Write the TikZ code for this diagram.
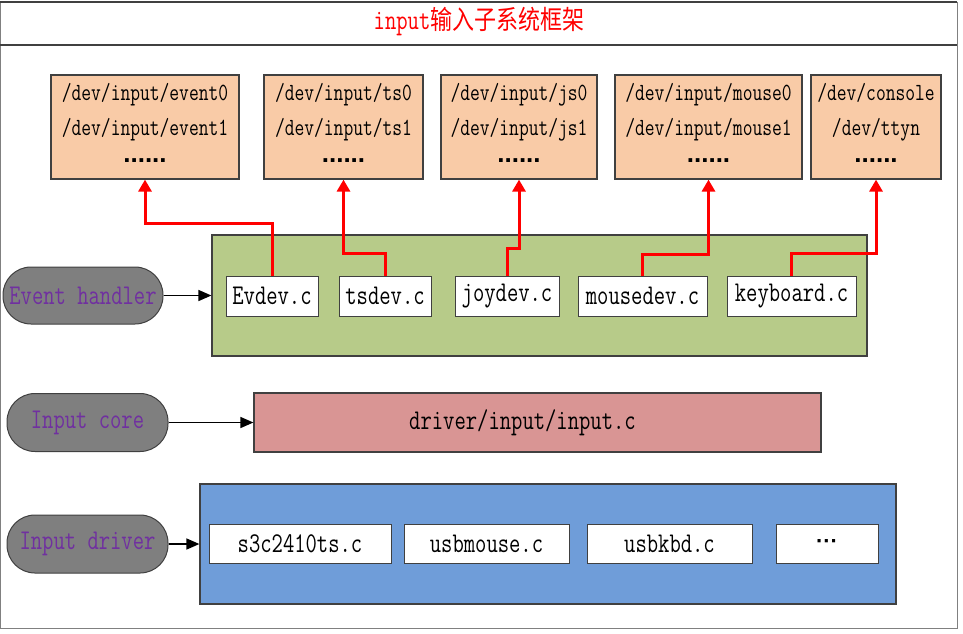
\documentclass[tikz,border=0pt]{standalone}
\usepackage{fontspec}
\usepackage{graphicx}
\usetikzlibrary{arrows.meta}
\newfontfamily\cjkfont{Noto Sans CJK SC}
\newfontfamily\dotfont{Liberation Sans}
\definecolor{devfill}{HTML}{F9CBA7}
\definecolor{handlerfill}{HTML}{B7CB89}
\definecolor{corefill}{HTML}{D99594}
\definecolor{driverfill}{HTML}{6F9DD9}
\definecolor{pillfill}{HTML}{7F7F7F}
\definecolor{pilltext}{HTML}{7030A0}
\definecolor{edge}{HTML}{404040}
\newcommand{\tall}[1]{\scalebox{1}[1.3]{#1}}
\newcommand{\devdots}{{\dotfont\bfseries\fontsize{26}{26}\selectfont ......}\rule[-8pt]{0pt}{0pt}}

\begin{document}
\begin{tikzpicture}[x=1pt,y=-1pt,
    frameline/.style={draw=gray,line width=1pt},
    devbox/.style={draw=edge,line width=1.2pt,fill=devfill,inner sep=0pt,align=center,
      minimum height=104,font=\fontsize{19}{35}\selectfont\ttfamily},
    layerbox/.style={draw=edge,line width=1.2pt,inner sep=0pt},
    srcbox/.style={draw=edge,line width=1pt,fill=white,inner sep=0pt,
      font=\fontsize{22}{22}\selectfont\ttfamily},
    pill/.style={draw=edge,line width=1pt,fill=pillfill,rounded corners=28,inner sep=0pt,
      minimum width=161,minimum height=58,text=pilltext,font=\fontsize{22}{22}\selectfont\ttfamily},
    redwire/.style={red,line width=3pt,-{Triangle[width=13pt,length=12pt]}},
    blackarrow/.style={line width=1.5pt,-{Triangle[width=11pt,length=13pt]}}]
  \useasboundingbox (0,0) rectangle (963,633);
  % frame and title
  \draw[frameline] (0.5,2) rectangle (957,628);
  \draw[edge,line width=2.5pt] (0,2) -- (957,2);
  \draw[edge,line width=2pt] (0,45) -- (957,45);
  \node[text=red] (title) at (479,22)
    {\tall{\fontsize{22}{22}\selectfont\ttfamily input}{\cjkfont\fontsize{22}{22}\selectfont\scalebox{1}[1.2]{输入子系统框架}}};

  % device files
  \node[devbox,minimum width=188] (ev) at (145,127)
    {\tall{/dev/input/event0}\\\tall{/dev/input/event1}\\[-8pt]\devdots};
  \node[devbox,minimum width=159] (ts) at (343.5,127)
    {\tall{/dev/input/ts0}\\\tall{/dev/input/ts1}\\[-8pt]\devdots};
  \node[devbox,minimum width=156] (js) at (519,127)
    {\tall{/dev/input/js0}\\\tall{/dev/input/js1}\\[-8pt]\devdots};
  \node[devbox,minimum width=187] (mouse) at (708.5,127)
    {\tall{/dev/input/mouse0}\\\tall{/dev/input/mouse1}\\[-8pt]\devdots};
  \node[devbox,minimum width=130] (tty) at (876,127)
    {\tall{/dev/console}\\\tall{/dev/ttyn}\\[-8pt]\devdots};

  % event handler layer
  \node[layerbox,fill=handlerfill,minimum width=655,minimum height=121] (handler) at (539.5,295.5) {};
  \node[srcbox,minimum width=92,minimum height=40] (evdev) at (272,296) {\tall{Evdev.c}};
  \node[srcbox,minimum width=92,minimum height=40] (tsdev) at (385,296) {\tall{tsdev.c}};
  \node[srcbox,minimum width=104,minimum height=40] (joydev) at (507,296) {\tall{joydev.c}};
  \node[srcbox,minimum width=129,minimum height=40] (mousedev) at (642.5,296) {\tall{mousedev.c}};
  \node[srcbox,minimum width=129,minimum height=40] (keyboard) at (791.5,296) {\tall{keyboard.c}};

  % input core layer
  \node[layerbox,fill=corefill,minimum width=567,minimum height=59,
    font=\fontsize{22}{22}\selectfont\ttfamily] (core) at (537.5,422.5) {\tall{driver/input/input.c}\rule{30pt}{0pt}};

  % input driver layer
  \node[layerbox,fill=driverfill,minimum width=696,minimum height=120] (driver) at (548,544) {};
  \node[srcbox,minimum width=182,minimum height=39] (s3c) at (300,543.5) {\tall{s3c2410ts.c}};
  \node[srcbox,minimum width=165,minimum height=39] (usbmouse) at (486.5,543.5) {\tall{usbmouse.c}};
  \node[srcbox,minimum width=165,minimum height=39] (usbkbd) at (669.5,543.5) {\tall{usbkbd.c}};
  \node[srcbox,minimum width=102,minimum height=39,font=\dotfont\bfseries\fontsize{22}{22}\selectfont]
    (more) at (827,543.5) {···};

  % layer names
  \node[pill,minimum width=160,minimum height=57] (handlername) at (83,295.5) {\tall{Event handler}};
  \node[pill] (corename) at (87.5,422.5) {\tall{Input core}};
  \node[pill] (drivername) at (87.5,544) {\tall{Input driver}};

  \begin{scope}[blackarrow]
    \draw (handlername.east) -- (handlername.east -| handler.west);
    \draw (corename.east) -- (corename.east -| core.west);
    \draw (drivername.east) -- (drivername.east -| driver.west);
  \end{scope}

  \begin{scope}[redwire]
    \draw (evdev.north) -- (evdev.north |- 0,223) -| (ev.south);
    \draw (tsdev.north) -- (tsdev.north |- 0,253) -| (ts.south);
    \draw (joydev.north) -- (joydev.north |- 0,248) -| (js.south);
    \draw (mousedev.north) -- (mousedev.north |- 0,254) -| (mouse.south);
    \draw (keyboard.north) -- (keyboard.north |- 0,253) -| (tty.south);
  \end{scope}
\end{tikzpicture}
\end{document}
